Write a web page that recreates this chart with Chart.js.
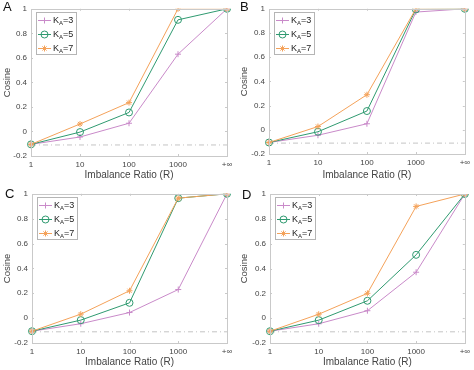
<!DOCTYPE html>
<html>
<head>
<meta charset="utf-8">
<script src="https://cdn.jsdelivr.net/npm/chart.js@4.4.0/dist/chart.umd.min.js"></script>
<style>
body{margin:0;background:#fff;width:474px;height:370px;overflow:hidden;font-family:"Liberation Sans",Arial,sans-serif;}
.panel{position:absolute;width:237px;height:185px;}
.letra{position:absolute;font-size:13px;color:#111;line-height:13px;}
</style>
</head>
<body>
<div class="panel" style="left:0;top:0"><canvas id="chartA" width="237" height="185"></canvas></div>
<div class="panel" style="left:237px;top:0"><canvas id="chartB" width="237" height="185"></canvas></div>
<div class="panel" style="left:0;top:185px"><canvas id="chartC" width="237" height="185"></canvas></div>
<div class="panel" style="left:237px;top:185px"><canvas id="chartD" width="237" height="185"></canvas></div>
<div class="letra" style="left:3px;top:0px">A</div>
<div class="letra" style="left:240px;top:0px">B</div>
<div class="letra" style="left:5px;top:187px">C</div>
<div class="letra" style="left:242px;top:188px">D</div>
<script>
//-------------datos-----------------//
const categorias = ['1', '10', '100', '1000', '+\u221e'];
const kValores = [3, 5, 7];
const linea_base = [-0.11, -0.11, -0.11, -0.11, -0.11];

const a_k3 = [-0.105, -0.045, 0.067, 0.63, 1];
const a_k5 = [-0.105, -0.005, 0.155, 0.91, 1];
const a_k7 = [-0.105, 0.061, 0.235, 1, 1];

const b_k3 = [-0.105, -0.045, 0.05, 0.973, 1];
const b_k5 = [-0.105, -0.016, 0.155, 0.995, 1];
const b_k7 = [-0.105, 0.027, 0.29, 1, 1];

const c_k3 = [-0.105, -0.045, 0.045, 0.23, 1];
const c_k5 = [-0.105, -0.016, 0.123, 0.965, 1];
const c_k7 = [-0.105, 0.032, 0.22, 0.965, 1];

const d_k3 = [-0.105, -0.045, 0.06, 0.37, 1];
const d_k5 = [-0.105, -0.016, 0.14, 0.51, 1];
const d_k7 = [-0.105, 0.032, 0.2, 0.9, 1];
//-----------------------------------//

const colores = ['#c98ac9', '#2f9a70', '#f4a25a'];
const marcas = ['cross', 'circle', 'star'];
const radios = [3, 3.5, 3];
const fuente = '"Liberation Sans", Arial, sans-serif';
const colorTexto = '#444';
const colorMarco = '#c9c9c9';

function dibujarMarca(ctx, tipo, x, y, r, color){
	ctx.save();
	ctx.strokeStyle = color;
	ctx.lineWidth = 1;
	ctx.beginPath();
	switch(tipo){
		case 'cross':
			ctx.moveTo(x-r, y); ctx.lineTo(x+r, y);
			ctx.moveTo(x, y-r); ctx.lineTo(x, y+r);
		break;
		case 'circle':
			ctx.arc(x, y, r, 0, Math.PI*2);
		break;
		case 'star':
			ctx.moveTo(x-r, y); ctx.lineTo(x+r, y);
			ctx.moveTo(x, y-r); ctx.lineTo(x, y+r);
			var d = r*0.7;
			ctx.moveTo(x-d, y-d); ctx.lineTo(x+d, y+d);
			ctx.moveTo(x-d, y+d); ctx.lineTo(x+d, y-d);
		break;
	}
	ctx.stroke();
	ctx.restore();
}

// marco gris con ticks hacia adentro (estilo matlab)
const marcoPlugin = {
	id: 'marco',
	afterDatasetsDraw(chart){
		const ctx = chart.ctx;
		const a = chart.chartArea;
		ctx.save();
		ctx.strokeStyle = colorMarco;
		ctx.lineWidth = 1;
		ctx.strokeRect(Math.round(a.left)+0.5, Math.round(a.top)+0.5, Math.round(a.right-a.left), Math.round(a.bottom-a.top));
		ctx.beginPath();
		const sx = chart.scales.x;
		for (var i = 1; i < categorias.length-1; i++) {
			var px = Math.round(sx.getPixelForValue(i))+0.5;
			ctx.moveTo(px, a.bottom); ctx.lineTo(px, a.bottom-2);
			ctx.moveTo(px, a.top); ctx.lineTo(px, a.top+2);
		}
		const sy = chart.scales.y;
		sy.ticks.forEach(function(t){
			var py = Math.round(sy.getPixelForValue(t.value))+0.5;
			ctx.moveTo(a.left, py); ctx.lineTo(a.left+2, py);
			ctx.moveTo(a.right, py); ctx.lineTo(a.right-2, py);
		});
		ctx.stroke();
		ctx.restore();
	}
};

// leyenda propia para poder poner el subindice A
const leyendaPlugin = {
	id: 'leyenda',
	afterDraw(chart){
		const ctx = chart.ctx;
		const a = chart.chartArea;
		const x0 = Math.round(a.left)+5, y0 = Math.round(a.top)+3;
		const w = 40, h = 42;
		ctx.save();
		ctx.fillStyle = '#fff';
		ctx.fillRect(x0, y0, w, h);
		ctx.strokeStyle = '#b5b5b5';
		ctx.lineWidth = 1;
		ctx.strokeRect(x0+0.5, y0+0.5, w, h);
		for (var i = 0; i < kValores.length; i++) {
			var yy = y0 + 8.5 + 14*i;
			ctx.strokeStyle = colores[i];
			ctx.beginPath();
			ctx.moveTo(x0+2, yy); ctx.lineTo(x0+15, yy);
			ctx.stroke();
			dibujarMarca(ctx, marcas[i], x0+8.5, yy, radios[i], colores[i]);
			ctx.fillStyle = '#222';
			ctx.textBaseline = 'middle';
			ctx.textAlign = 'left';
			ctx.font = '9px ' + fuente;
			ctx.fillText('K', x0+17, yy);
			var wk = ctx.measureText('K').width;
			ctx.font = '6px ' + fuente;
			ctx.fillText('A', x0+17+wk, yy+3);
			var wa = ctx.measureText('A').width;
			ctx.font = '9px ' + fuente;
			ctx.fillText('=' + kValores[i], x0+17+wk+wa, yy);
		}
		ctx.restore();
	}
};

function creargraf(nombre, k3, k5, k7, geo){
	const series = [k3, k5, k7];
	var datasets = [];
	for (var i = 0; i < series.length; i++) {
		datasets.push({
			label: 'K_A=' + kValores[i],
			data: series[i],
			borderColor: colores[i],
			backgroundColor: 'transparent',
			borderWidth: 1,
			pointStyle: marcas[i],
			pointRadius: radios[i],
			pointBorderColor: colores[i],
			pointBackgroundColor: 'transparent',
			pointBorderWidth: 1,
			tension: 0,
			order: 3-i
		});
	}
	datasets.push({
		label: 'base',
		data: linea_base,
		borderColor: '#c4c4c4',
		borderWidth: 1,
		borderDash: [5, 3, 1, 3],
		pointRadius: 0,
		order: 5
	});

	const ctx = document.getElementById(nombre).getContext('2d');
	new Chart(ctx, {
		type: 'line',
		data: { labels: categorias, datasets: datasets },
		plugins: [marcoPlugin, leyendaPlugin],
		options: {
			responsive: false,
			animation: false,
			devicePixelRatio: 1,
			layout: { padding: { top: geo.top, right: geo.right, left: 0, bottom: 0 } },
			plugins: { legend: { display: false }, tooltip: { enabled: false } },
			scales: {
				x: {
					offset: false,
					grid: { display: false, drawTicks: false },
					border: { display: false },
					ticks: { color: colorTexto, font: { family: fuente, size: 8 }, padding: 4, maxRotation: 0, autoSkip: false },
					title: { display: true, text: 'Imbalance Ratio (R)', color: colorTexto, font: { family: fuente, size: 10 }, padding: { top: 0, bottom: geo.tb } },
					afterFit: function(scale){ scale.height = geo.xh; }
				},
				y: {
					min: -0.2,
					max: 1,
					grid: { display: false, drawTicks: false },
					border: { display: false },
					ticks: {
						stepSize: 0.2,
						color: colorTexto,
						font: { family: fuente, size: 8 },
						padding: 4,
						callback: function(v){ return String(+v.toFixed(1)); }
					},
					title: { display: true, text: 'Cosine', color: colorTexto, font: { family: fuente, size: 9.5 }, padding: { top: 2, bottom: 0 } },
					afterFit: function(scale){ scale.width = geo.yw; }
				}
			}
		}
	});
}

creargraf('chartA', a_k3, a_k5, a_k7, { top: 6, right: 10, xh: 29, yw: 31, tb: 4 });
creargraf('chartB', b_k3, b_k5, b_k7, { top: 6, right: 8, xh: 31, yw: 32, tb: 4 });
creargraf('chartC', c_k3, c_k5, c_k7, { top: 8, right: 10, xh: 27, yw: 32, tb: 2 });
creargraf('chartD', d_k3, d_k5, d_k7, { top: 9, right: 8, xh: 27, yw: 33, tb: 2 });
</script>
</body>
</html>
